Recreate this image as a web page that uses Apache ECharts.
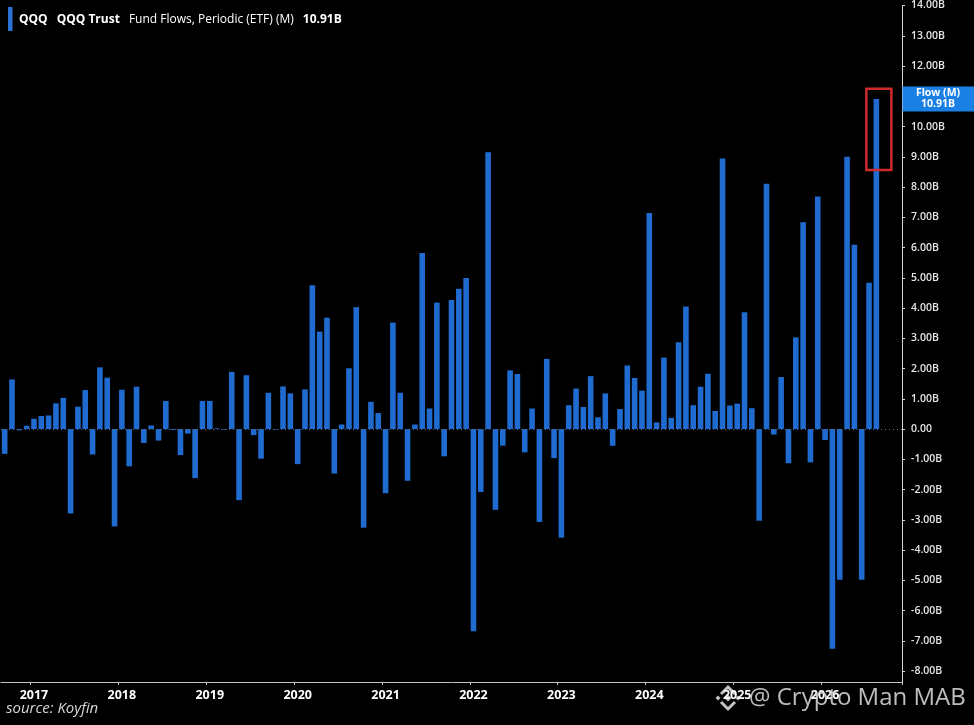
<!DOCTYPE html>
<html>
<head>
<meta charset="utf-8">
<script src="https://cdn.jsdelivr.net/npm/echarts@6/dist/echarts.min.js"></script>
<style>
html,body{margin:0;padding:0;background:#000;}
#chart{width:974px;height:725px;}
</style>
</head>
<body>
<div id="chart"></div>
<script>
// Monthly categories (last three are empty months on the axis)
const months = [
  '2016-09','2016-10','2016-11','2016-12',
  '2017-01','2017-02','2017-03','2017-04','2017-05','2017-06','2017-07','2017-08','2017-09','2017-10','2017-11','2017-12',
  '2018-01','2018-02','2018-03','2018-04','2018-05','2018-06','2018-07','2018-08','2018-09','2018-10','2018-11','2018-12',
  '2019-01','2019-02','2019-03','2019-04','2019-05','2019-06','2019-07','2019-08','2019-09','2019-10','2019-11','2019-12',
  '2020-01','2020-02','2020-03','2020-04','2020-05','2020-06','2020-07','2020-08','2020-09','2020-10','2020-11','2020-12',
  '2021-01','2021-02','2021-03','2021-04','2021-05','2021-06','2021-07','2021-08','2021-09','2021-10','2021-11','2021-12',
  '2022-01','2022-02','2022-03','2022-04','2022-05','2022-06','2022-07','2022-08','2022-09','2022-10','2022-11','2022-12',
  '2023-01','2023-02','2023-03','2023-04','2023-05','2023-06','2023-07','2023-08','2023-09','2023-10','2023-11','2023-12',
  '2024-01','2024-02','2024-03','2024-04','2024-05','2024-06','2024-07','2024-08','2024-09','2024-10','2024-11','2024-12',
  '2025-01','2025-02','2025-03','2025-04','2025-05','2025-06','2025-07','2025-08','2025-09','2025-10','2025-11','2025-12',
  '2026-01','2026-02','2026-03','2026-04','2026-05','2026-06','2026-07','2026-08','2026-09','2026-10','2026-11'
];

// Fund flows in billions (QQQ, monthly)
const flows = [
  -0.82, 1.64, -0.04, 0.11,
  0.34, 0.43, 0.45, 0.85, 1.03, -2.79, 0.74, 1.29, -0.84, 2.04, 1.70, -3.22,
  1.30, -1.23, 1.40, -0.46, 0.12, -0.38, 0.93, -0.03, -0.86, -0.15, -1.62, 0.93,
  0.93, 0.02, -0.02, 1.89, -2.35, 1.78, -0.20, -0.98, 1.20, -0.02, 1.41, 1.18,
  -1.16, 1.31, 4.75, 3.22, 3.68, -1.47, 0.15, 2.01, 4.03, -3.26, 0.90, 0.53,
  -2.12, 3.52, 1.20, -1.71, 0.15, 5.82, 0.68, 4.18, -0.90, 4.27, 4.64, 4.99,
  -6.68, -2.08, 9.15, -2.67, -0.55, 1.94, 1.82, -0.77, 0.68, -3.07, 2.32, -0.96,
  -3.59, 0.79, 1.34, 0.73, 1.75, 0.39, 1.18, -0.55, 0.66, 2.10, 1.69, 1.27,
  7.14, 0.22, 2.36, 0.37, 2.87, 4.05, 0.79, 1.40, 1.83, 0.60, 8.94, 0.78,
  0.84, 3.86, 0.69, -3.03, 8.11, -0.18, 1.72, -1.13, 3.03, 6.84, -1.10, 7.69,
  -0.36, -7.26, -4.98, 9.00, 6.09, -4.98, 4.84, 10.91,
  null, null, null
];

const yTickValues = [-8,-7,-6,-5,-4,-3,-2,-1,0,1,2,3,4,5,6,7,8,9,10,11,12,13,14];
const highlightRange = [8.56, 11.25];

const lastIndex = 119;
const lastValue = flows[lastIndex];

const BAR_BLUE = '#1f6bd0';
const chart = echarts.init(document.getElementById('chart'));

function fmtB(v){ return v === 0 ? '0.00' : v.toFixed(2) + 'B'; }
const isJan = (idx, val) => /-01$/.test(val);

chart.setOption({
  backgroundColor: '#000000',
  animation: false,
  title: {
    left: 14, top: 9,
    text: '{b|QQQ}{b|QQQ Trust}{n|Fund Flows, Periodic (ETF) (M)}{v|' + fmtB(lastValue) + '}',
    textStyle: {
      rich: {
        b: {color:'#ffffff', fontFamily:'Open Sans', fontWeight:'bold', fontSize:12, padding:[0,9,0,0]},
        n: {color:'#ffffff', fontFamily:'Open Sans', fontWeight:'normal', fontSize:12, padding:[0,9,0,0]},
        v: {color:'#ffffff', fontFamily:'Open Sans', fontWeight:'bold', fontSize:12}
      }
    }
  },
  grid: {left: 1, right: 72, top: 1.7, bottom: 43, containLabel: false},
  xAxis: {
    type: 'category',
    data: months,
    boundaryGap: true,
    axisLine: {show: true, onZero: false, lineStyle: {color: '#c4c4c4', width: 1}},
    axisTick: {show: true, interval: isJan, length: 3, lineStyle: {color: '#c4c4c4'}},
    axisLabel: {
      interval: isJan,
      formatter: v => v.slice(0,4),
      color: '#ffffff', fontFamily: 'Open Sans', fontWeight: 'bold', fontSize: 12.5, margin: 7
    },
    splitLine: {show: false}
  },
  yAxis: {
    type: 'value',
    position: 'right',
    min: -8.36, max: 14,
    axisLine: {show: true, lineStyle: {color: '#d8d8d8', width: 1}},
    axisTick: {show: true, customValues: yTickValues, length: 3, lineStyle: {color: '#d8d8d8'}},
    axisLabel: {
      customValues: yTickValues,
      formatter: v => fmtB(v),
      color: '#e6e6e6', fontFamily: 'Open Sans', fontWeight: 600, fontSize: 10.5, margin: 9
    },
    splitLine: {show: false}
  },
  series: [{
    type: 'bar',
    data: flows,
    barWidth: 5.6,
    itemStyle: {color: BAR_BLUE},
    markLine: {
      silent: true,
      symbol: 'none',
      label: {show: false},
      lineStyle: {type: [1,3], color: '#6a6a6a', width: 1},
      data: [{yAxis: 0}]
    }
  }]
});

// annotations positioned from the data via the chart's scales
const pTop = chart.convertToPixel({seriesIndex: 0}, [lastIndex, highlightRange[1]]);
const pBot = chart.convertToPixel({seriesIndex: 0}, [lastIndex, highlightRange[0]]);
const pVal = chart.convertToPixel({seriesIndex: 0}, [lastIndex, lastValue]);
const axisX = chart.getWidth() - 72;

chart.setOption({
  graphic: [
    {type:'rect', left: 8, top: 7, shape:{width:4.5, height:24}, style:{fill:'#2b72d6'}},
    {type:'rect', shape:{x: pTop[0] - 10, y: pTop[1], width: 25, height: pBot[1] - pTop[1]},
     style:{fill:'none', stroke:'#cf2b2b', lineWidth:2.5}, z: 100},
    {type:'rect', shape:{x: axisX + 0.5, y: pVal[1] - 12.5, width: chart.getWidth() - axisX, height: 25},
     style:{fill:'#1a80e4'}, z: 100},
    {type:'text', x: axisX + 36, y: pVal[1] - 6, z: 101,
     style:{text:'Flow (M)', fill:'#ffffff', font:'bold 10.5px "Open Sans"', align:'center', verticalAlign:'middle'}},
    {type:'text', x: axisX + 36, y: pVal[1] + 5.5, z: 101,
     style:{text: fmtB(lastValue), fill:'#ffffff', font:'bold 10.5px "Open Sans"', align:'center', verticalAlign:'middle'}},
    {type:'text', left: 6, top: 701, z: 101,
     style:{text:'source: Koyfin', fill:'#d8d8d8', font:'italic 15px "Open Sans"'}},
    // watermark
    {type:'group', x: 728, y: 698, z: 110, children: [
      {type:'polyline', shape:{points:[[-7,-4],[0,-11],[7,-4]]}, style:{stroke:'rgba(215,215,215,0.9)', lineWidth:3, fill:'none'}},
      {type:'polyline', shape:{points:[[-7,4],[0,11],[7,4]]}, style:{stroke:'rgba(215,215,215,0.9)', lineWidth:3, fill:'none'}},
      {type:'polygon', shape:{points:[[0,-3.5],[3.5,0],[0,3.5],[-3.5,0]]}, style:{fill:'rgba(215,215,215,0.9)'}},
      {type:'polygon', shape:{points:[[-10,-2.5],[-7.5,0],[-10,2.5],[-12.5,0]]}, style:{fill:'rgba(215,215,215,0.9)'}},
      {type:'polygon', shape:{points:[[10,-2.5],[12.5,0],[10,2.5],[7.5,0]]}, style:{fill:'rgba(215,215,215,0.9)'}}
    ]},
    {type:'text', x: 749, y: 698, z: 110,
     style:{text:'@ Crypto Man MAB', fill:'rgba(215,215,215,0.88)', font:'24px "Open Sans"', verticalAlign:'middle'}}
  ]
});
</script>
</body>
</html>
